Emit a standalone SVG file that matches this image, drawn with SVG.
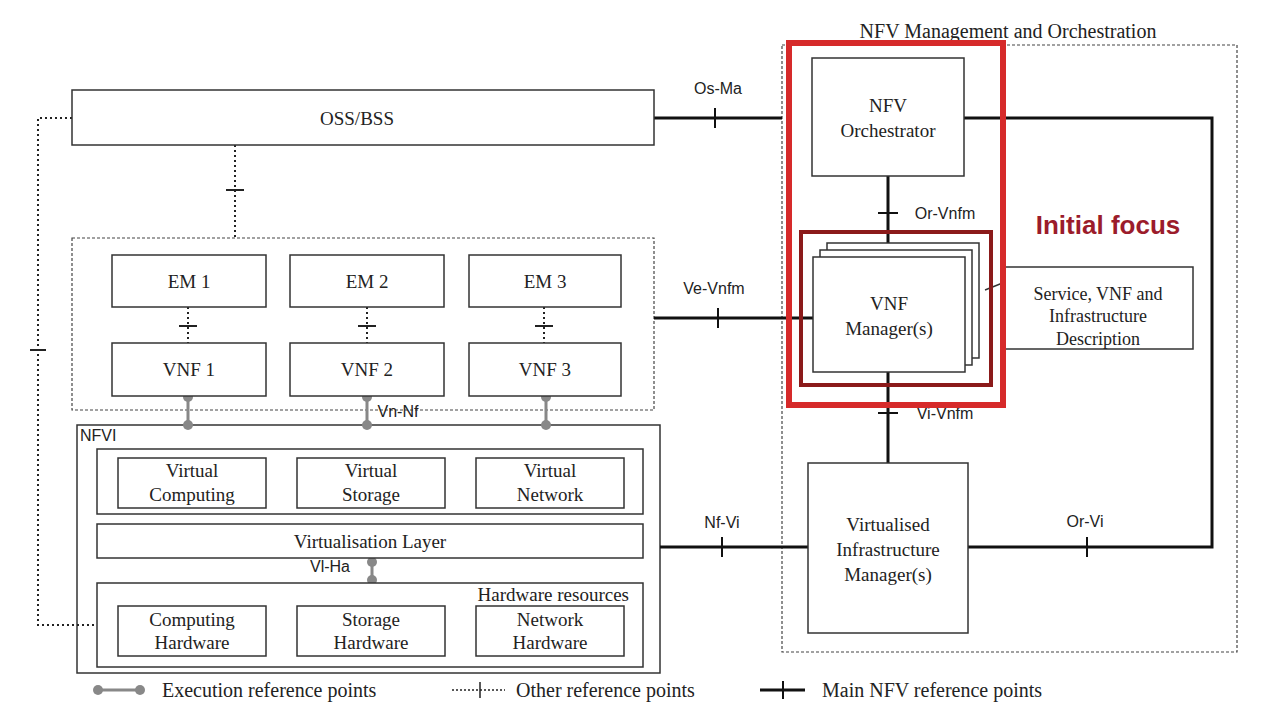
<svg xmlns="http://www.w3.org/2000/svg" width="1280" height="720" viewBox="0 0 1280 720">
<style>
.b{fill:#fff;stroke:#333;stroke-width:1.5}
.t{font-family:"Liberation Serif",serif;font-size:19px;fill:#222;text-anchor:middle}
.s{font-family:"Liberation Sans",sans-serif;font-size:16px;fill:#222;text-anchor:middle}
.m{stroke:#111;stroke-width:3;fill:none}
.o{stroke:#222;stroke-width:2;stroke-dasharray:2 3;fill:none}
.e{stroke:#888;stroke-width:3;fill:none}
.d{fill:#888}
.bx{fill:none;stroke:#444;stroke-width:1.2;stroke-dasharray:3 2}
.lg{font-family:"Liberation Serif",serif;font-size:20px;fill:#222}
</style>
<rect width="1280" height="720" fill="#fff"/>
<g id="frames">
<rect class="bx" x="72" y="238" width="582" height="172"/>
<rect x="77" y="425" width="583" height="248" fill="none" stroke="#333" stroke-width="1.5"/>
<text x="80" y="441" font-family="Liberation Sans,sans-serif" font-size="16" fill="#222">NFVI</text>
<rect class="bx" x="782" y="45" width="455" height="607"/>
<text x="1008" y="38" class="t" style="font-size:20px">NFV Management and Orchestration</text>
</g>
<g id="connectors">
<path class="o" d="M72 118H38V625H97"/><path d="M30 350H46" stroke="#222" stroke-width="2"/>
<path class="o" d="M235 145V238"/><path d="M226 190H244" stroke="#222" stroke-width="2"/>
<path class="o" d="M188 307V343M367 307V343M544 307V343"/>
<path d="M179 326H197M358 326H376M535 326H553" stroke="#222" stroke-width="2"/>
<path class="e" d="M188 397V425M367 397V425M546 397V425M372 558V583"/>
<g class="d"><circle cx="188" cy="397" r="5"/><circle cx="188" cy="425" r="5"/><circle cx="367" cy="397" r="5"/><circle cx="367" cy="425" r="5"/><circle cx="546" cy="397" r="5"/><circle cx="546" cy="425" r="5"/><circle cx="372" cy="562" r="5"/><circle cx="372" cy="580" r="5"/></g>
<text x="398" y="417" class="s">Vn-Nf</text>
<text x="330" y="572" class="s">Vl-Ha</text>
<path class="m" d="M654 118H782M964 118H1212V547H968M888 176V257M888 372V463M654 318H813M660 547H808"/>
<path d="M715 108V128M1087 537V557M878 213H898M878 413H898M718 308V328M722 537V557" stroke="#111" stroke-width="2"/>
<text x="718" y="94" class="s">Os-Ma</text>
<text x="1085" y="527" class="s">Or-Vi</text>
<text x="945" y="219" class="s">Or-Vnfm</text>
<text x="945" y="419" class="s">Vi-Vnfm</text>
<text x="714" y="294" class="s">Ve-Vnfm</text>
<text x="722" y="528" class="s">Nf-Vi</text>
</g>
<g id="oss"><rect class="b" x="72" y="90" width="582" height="55"/><text x="357" y="125" class="t">OSS/BSS</text></g>
<g id="em1"><rect class="b" x="112" y="255" width="154" height="52"/><text x="189" y="288" class="t">EM 1</text></g>
<g id="em2"><rect class="b" x="290" y="255" width="154" height="52"/><text x="367" y="288" class="t">EM 2</text></g>
<g id="em3"><rect class="b" x="469" y="255" width="152" height="52"/><text x="545" y="288" class="t">EM 3</text></g>
<g id="vnf1"><rect class="b" x="112" y="343" width="154" height="53"/><text x="189" y="376" class="t">VNF 1</text></g>
<g id="vnf2"><rect class="b" x="290" y="343" width="154" height="53"/><text x="367" y="376" class="t">VNF 2</text></g>
<g id="vnf3"><rect class="b" x="469" y="343" width="152" height="53"/><text x="545" y="376" class="t">VNF 3</text></g>
<g id="virtual"><rect class="b" x="97" y="449" width="546" height="65"/>
<rect class="b" x="118" y="458" width="148" height="50"/><text x="192" y="477" class="t">Virtual</text><text x="192" y="501" class="t">Computing</text>
<rect class="b" x="297" y="458" width="148" height="50"/><text x="371" y="477" class="t">Virtual</text><text x="371" y="501" class="t">Storage</text>
<rect class="b" x="476" y="458" width="148" height="50"/><text x="550" y="477" class="t">Virtual</text><text x="550" y="501" class="t">Network</text></g>
<g id="vlayer"><rect class="b" x="97" y="524" width="546" height="34"/><text x="370" y="548" class="t">Virtualisation Layer</text></g>
<g id="hw"><rect class="b" x="97" y="583" width="546" height="84"/><text x="629" y="601" class="t" style="text-anchor:end">Hardware resources</text>
<rect class="b" x="118" y="606" width="148" height="50"/><text x="192" y="626" class="t">Computing</text><text x="192" y="649" class="t">Hardware</text>
<rect class="b" x="297" y="606" width="148" height="50"/><text x="371" y="626" class="t">Storage</text><text x="371" y="649" class="t">Hardware</text>
<rect class="b" x="476" y="606" width="148" height="50"/><text x="550" y="626" class="t">Network</text><text x="550" y="649" class="t">Hardware</text></g>
<g id="orch"><rect class="b" x="812" y="58" width="152" height="118"/><text x="888" y="112" class="t">NFV</text><text x="888" y="137" class="t">Orchestrator</text></g>
<g id="vnfm"><rect class="b" x="827" y="243" width="152" height="115"/><rect class="b" x="820" y="250" width="152" height="115"/><rect class="b" x="813" y="257" width="152" height="115"/>
<text x="889" y="310" class="t">VNF</text><text x="889" y="335" class="t">Manager(s)</text></g>
<g id="desc"><path d="M1005 282L985 290" stroke="#333" stroke-width="1.5"/><rect class="b" x="1005" y="267" width="188" height="82"/>
<text x="1098" y="300" class="t" style="font-size:18px">Service, VNF and</text><text x="1098" y="322" class="t" style="font-size:18px">Infrastructure</text><text x="1098" y="345" class="t" style="font-size:18px">Description</text></g>
<g id="vim"><rect class="b" x="808" y="463" width="160" height="170"/><text x="888" y="531" class="t">Virtualised</text><text x="888" y="556" class="t">Infrastructure</text><text x="888" y="581" class="t">Manager(s)</text></g>
<g id="focus"><rect x="789" y="43" width="214" height="362" fill="none" stroke="#d62a2a" stroke-width="6"/>
<rect x="801" y="232" width="190" height="153" fill="none" stroke="#8b1a1a" stroke-width="4"/>
<text x="1108" y="234" font-family="Liberation Sans,sans-serif" font-weight="bold" font-size="26" fill="#9b1c2b" text-anchor="middle">Initial focus</text></g>
<g id="legend">
<path class="e" d="M98 690H140"/><circle class="d" cx="98" cy="690" r="5"/><circle class="d" cx="140" cy="690" r="5"/>
<text x="162" y="697" class="lg">Execution reference points</text>
<path d="M452 690H505" stroke="#222" stroke-width="1.5" stroke-dasharray="2 2"/><path d="M480 682V698" stroke="#222" stroke-width="1.5"/>
<text x="516" y="697" class="lg">Other reference points</text>
<path d="M760 690H805" stroke="#111" stroke-width="3"/><path d="M783 681V699" stroke="#111" stroke-width="2"/>
<text x="822" y="697" class="lg">Main NFV reference points</text>
</g>
</svg>
